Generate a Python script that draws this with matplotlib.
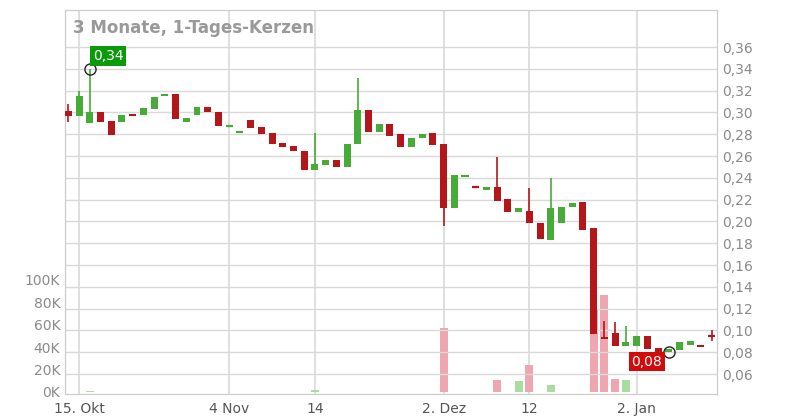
import matplotlib
matplotlib.use("Agg")
import matplotlib.pyplot as plt
import numpy as np

opens  = [.301,.297,.290,.300,.292,.291,.299,.298,.303,.315,.317,.291,.298,.305,.300,.288,.282,.293,.287,.281,
          .272,.269,.265,.247,.252,.256,.250,.271,.302,.282,.289,.280,.268,.277,.281,.271,.212,.242,.232,.229,
          .232,.221,.209,.210,.199,.183,.199,.2135,.218,.194,.094,.098,.086,.086,.095,.084,.080,.082,.087,.087,.0955]
closes = [.297,.315,.300,.291,.279,.298,.297,.304,.314,.317,.294,.295,.305,.300,.288,.288,.282,.286,.280,.271,
          .268,.265,.247,.253,.256,.250,.271,.302,.282,.289,.278,.268,.277,.280,.270,.212,.243,.242,.231,.232,
          .219,.209,.212,.199,.184,.212,.213,.217,.192,.097,.0925,.086,.0895,.095,.083,.080,.083,.089,.090,.085,.0945]
highs = list(np.maximum(opens, closes))
lows = list(np.minimum(opens, closes))
high_over = {0:.308, 1:.320, 2:.340, 23:.281, 27:.332, 40:.259, 43:.231, 45:.240, 50:.109, 51:.108, 52:.104, 60:.100}
low_over = {0:.291, 35:.196, 56:.080, 60:.090}
for k, v in high_over.items(): highs[k] = v
for k, v in low_over.items(): lows[k] = v
volumes = {2:1000, 23:2000, 35:57000, 40:11000, 42:10000, 43:24000, 45:6000, 49:74000, 50:87000, 51:12000, 52:11000}
tick_idx = [1, 15, 23, 35, 43, 53]
tick_labels = ["15. Okt", "4 Nov", "14", "2. Dez", "12", "2. Jan"]
price_ticks = [0.06,0.08,0.10,0.12,0.14,0.16,0.18,0.20,0.22,0.24,0.26,0.28,0.30,0.32,0.34,0.36]
vol_ticks = [0, 20000, 40000, 60000, 80000, 100000]

GREEN = "#46ab37"; RED = "#b4161a"
LGREEN = "#a9dca1"; LRED = "#eea7b0"
grid_c = "#d9d9d9"; txt_c = "#8a8a8a"

fig = plt.figure(figsize=(8, 4.2), dpi=100)
ax = fig.add_axes([65/800, 26/420, 652/800, 384/420])
n = len(opens)
ax.set_xlim(-0.31, 60.5)
ax.set_ylim(-1800, 341000)
for i, v in volumes.items():
    c = LGREEN if closes[i] >= opens[i] else LRED
    ax.bar(i, v, width=0.75, color=c, zorder=1)
ax.set_yticks(vol_ticks)
ax.set_yticklabels([f"{int(v/1000)}K" for v in vol_ticks])
ax.set_xticks(tick_idx)
ax.set_xticklabels(tick_labels)
for t in tick_idx:
    ax.axvline(t, color=grid_c, lw=1.2, zorder=0)

ax2 = ax.twinx()
ax2.set_ylim(0.0417, 0.394)
ax2.set_yticks(price_ticks)
ax2.set_yticklabels([f"{p:.2f}".replace(".", ",") for p in price_ticks])
for p in price_ticks:
    ax2.axhline(p, color=grid_c, lw=1, zorder=0)
for i in range(n):
    o, c = opens[i], closes[i]
    col = GREEN if c >= o else RED
    ax2.vlines(i, lows[i], highs[i], color=col, lw=1.2, zorder=2)
    h = abs(c - o)
    if h < 0.0015:
        ax2.hlines((o + c) / 2, i - 0.33, i + 0.33, color=col, lw=1.6, zorder=3)
    else:
        ax2.bar(i, h, bottom=min(o, c), width=0.65, color=col, zorder=3)

ax2.plot(2, highs[2], "o", ms=8, mfc="none", mec="#222", mew=1, zorder=5)
ax2.text(2.3, 0.352, "0,34", color="white", fontsize=10, va="center", ha="left",
         bbox=dict(boxstyle="square,pad=0.2", fc="#0a9a0a", ec="none"), zorder=6)
ax2.plot(56, 0.0805, "o", ms=8, mfc="none", mec="#222", mew=1, zorder=5)
ax2.text(55.4, 0.0715, "0,08", color="white", fontsize=10, va="center", ha="right",
         bbox=dict(boxstyle="square,pad=0.2", fc="#d20a0a", ec="none"), zorder=6)

for a in (ax, ax2):
    for s in a.spines.values():
        s.set_color("#cccccc")
    a.tick_params(colors=txt_c, labelsize=10, length=0)
ax.spines["left"].set_color("#bbbbbb")
fig.text(73/800, 1 - 28/420, "3 Monate, 1-Tages-Kerzen", color="#999999", fontsize=12,
         fontweight="bold", va="center", ha="left")
ax.tick_params(axis="x", colors="#555555", pad=6)
fig.savefig("out.png", dpi=100)
